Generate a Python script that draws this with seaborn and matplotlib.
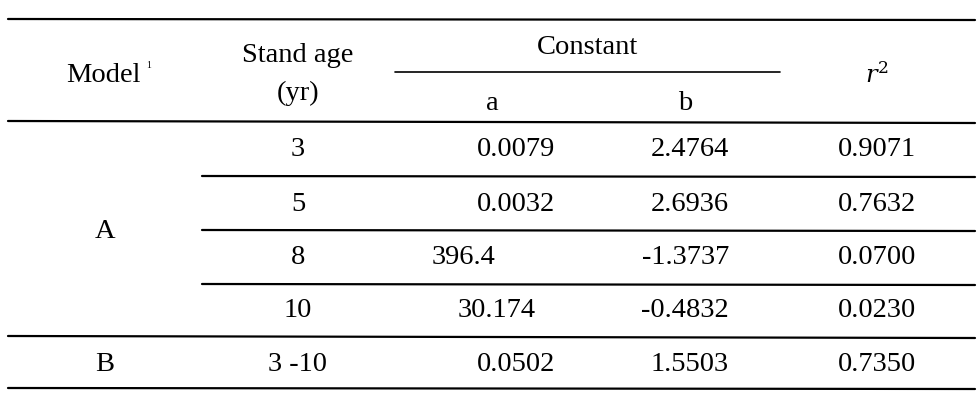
import matplotlib
matplotlib.use("Agg")
import matplotlib.pyplot as plt
import seaborn as sns

sns.set_theme(style="white")
plt.rcParams['font.family'] = ['Liberation Serif', 'DejaVu Serif']
plt.rcParams['mathtext.fontset'] = 'dejavuserif'
plt.rcParams['text.color'] = 'black'

models = ["A", "B"]
stand_age = ["3", "5", "8", "10", "3 -10"]
const_a = ["0.0079", "0.0032", "396.4", "30.174", "0.0502"]
const_b = ["2.4764", "2.6936", "-1.3737", "-0.4832", "1.5503"]
r2 = ["0.9071", "0.7632", "0.0700", "0.0230", "0.7350"]

fig = plt.figure(figsize=(9.79, 4.02), dpi=100)
ax = fig.add_axes([0, 0, 1, 1])
ax.set_xlim(0, 979)
ax.set_ylim(402, 0)
ax.axis("off")

fs = 20.5
lw = 1.6
# rules
ax.plot([8, 975], [20, 21], color="black", lw=lw)
ax.plot([395, 780], [73, 73], color="black", lw=1.2)
ax.plot([8, 975], [122, 124], color="black", lw=lw)
for y in (177, 231, 285):
    ax.plot([202, 975], [y, y + 1], color="black", lw=lw)
ax.plot([8, 975], [337, 339], color="black", lw=lw)
ax.plot([8, 975], [389, 390], color="black", lw=lw)

# header
ax.text(103, 76, "Model", ha="center", va="center", fontsize=fs)
ax.text(149, 66, "1", ha="center", va="center", fontsize=7)
ax.text(298, 55, "Stand age", ha="center", va="center", fontsize=fs)
ax.text(298, 93, "(yr)", ha="center", va="center", fontsize=fs)
ax.text(588, 47, "Constant", ha="center", va="center", fontsize=fs)
ax.text(492, 103, "a", ha="center", va="center", fontsize=fs)
ax.text(685, 103, "b", ha="center", va="center", fontsize=fs)
ax.text(877, 75, r"$r^2$", ha="center", va="center", fontsize=fs - 3)

# body
row_y = [150, 205, 258, 311, 365]
ax.text(105, 232, models[0], ha="center", va="center", fontsize=fs)
ax.text(105, row_y[4], models[1], ha="center", va="center", fontsize=fs)
a_pos = [(555, "right"), (555, "right"), (432, "left"), (536, "right"), (555, "right")]
for i, y in enumerate(row_y):
    ax.text(298, y, stand_age[i], ha="center", va="center", fontsize=fs)
    x, ha = a_pos[i]
    ax.text(x, y, const_a[i], ha=ha, va="center", fontsize=fs)
    ax.text(729, y, const_b[i], ha="right", va="center", fontsize=fs)
    ax.text(877, y, r2[i], ha="center", va="center", fontsize=fs)

fig.savefig("out.png", dpi=100)
